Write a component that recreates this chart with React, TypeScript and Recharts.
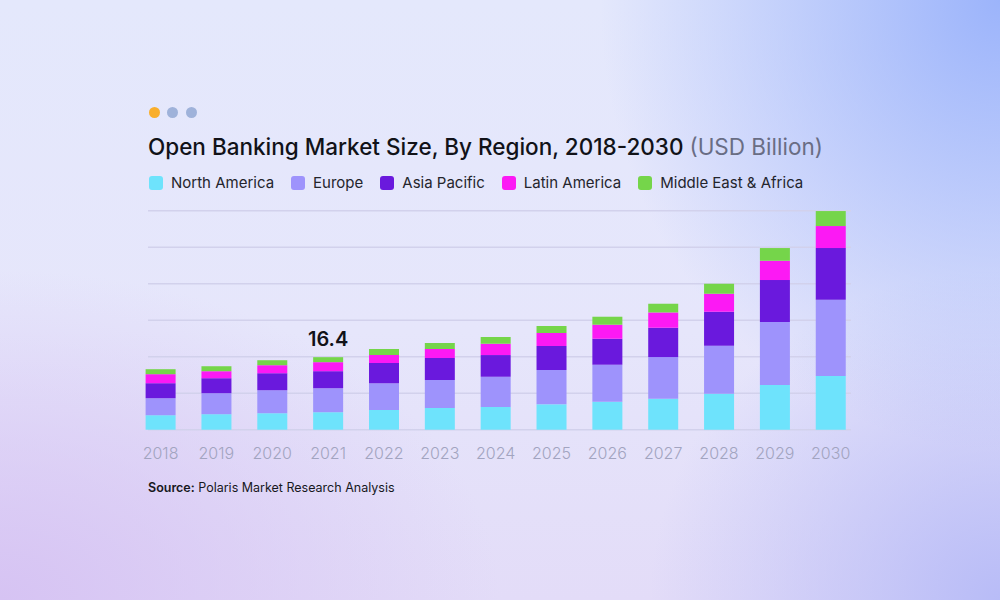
import { BarChart, Bar, XAxis, YAxis, CartesianGrid, LabelList } from 'recharts'

const years = ['2018', '2019', '2020', '2021', '2022', '2023', '2024', '2025', '2026', '2027', '2028', '2029', '2030']
const northAmerica = [3.28, 3.51, 3.73, 3.96, 4.46, 4.91, 5.13, 5.75, 6.33, 7.01, 8.14, 10.11, 12.15]
const europe = [3.85, 4.75, 5.2, 5.43, 6.04, 6.33, 6.85, 7.76, 8.37, 9.43, 10.86, 14.25, 17.26]
const asiaPacific = [3.39, 3.39, 3.85, 3.85, 4.59, 4.98, 4.91, 5.43, 5.88, 6.63, 7.69, 9.5, 11.69]
const latinAmerica = [2.04, 1.58, 1.81, 2.04, 1.81, 2.04, 2.56, 2.94, 3.17, 3.46, 4.07, 4.37, 4.98]
const middleEastAfrica = [1.13, 1.13, 1.13, 1.13, 1.36, 1.36, 1.52, 1.58, 1.81, 1.97, 2.26, 2.87, 3.39]
const topLabels = ['', '', '', '16.4', '', '', '', '', '', '', '', '', '']
const yTicks = [0, 8.26, 16.52, 24.77, 33.03, 41.29, 49.55]

const series = [
  { key: 'na', name: 'North America', color: '#6ee3fc' },
  { key: 'eu', name: 'Europe', color: '#9e93fc' },
  { key: 'ap', name: 'Asia Pacific', color: '#6a19dd' },
  { key: 'la', name: 'Latin America', color: '#fc19f4' },
  { key: 'mea', name: 'Middle East & Africa', color: '#75d54a' },
]

const data = years.map((year, i) => ({
  year,
  na: northAmerica[i],
  eu: europe[i],
  ap: asiaPacific[i],
  la: latinAmerica[i],
  mea: middleEastAfrica[i],
  label: topLabels[i],
}))

const font = 'Inter, "Noto Sans", sans-serif'

// grid lines stop short of the outer band edges, like the original
const GridLine = (props: any) => (
  <line
    key={props.key}
    x1={props.x1 + 15.4}
    x2={props.x2 - 7.6}
    y1={props.y1}
    y2={props.y2}
    stroke="#d2d1ec"
    strokeWidth={1.5}
  />
)

export default function App() {
  return (
    <div
      style={{
        position: 'absolute',
        top: 0,
        left: 0,
        width: 1000,
        height: 600,
        overflow: 'hidden',
        fontFamily: font,
        background:
          'radial-gradient(ellipse 40% 75% at 100% 0%, rgba(156,180,251,1) 0%, rgba(156,180,251,0) 100%), radial-gradient(ellipse 35% 55% at 100% 100%, rgba(184,188,247,1) 0%, rgba(184,188,247,0) 100%), radial-gradient(ellipse 50% 55% at 0% 100%, rgba(214,195,243,1) 0%, rgba(214,195,243,0) 100%), linear-gradient(180deg, #e4e8fc 0%, #e6e6fb 55%, #e3dcf8 100%)',
      }}
    >
      {['#f9ae2b', '#9fb2da', '#9fb2da'].map((c, i) => (
        <div
          key={i}
          style={{
            position: 'absolute',
            left: 149 + i * 18.4,
            top: 106.5,
            width: 11,
            height: 11,
            borderRadius: '50%',
            background: c,
          }}
        />
      ))}
      <div
        style={{
          position: 'absolute',
          left: 148,
          top: 135.5,
          fontSize: 22.5,
          lineHeight: '22px',
          fontWeight: 500,
          color: '#111218',
          whiteSpace: 'nowrap',
        }}
      >
        Open Banking Market Size, By Region, 2018-2030{' '}
        <span style={{ color: '#696d84', fontWeight: 400 }}>(USD Billion)</span>
      </div>
      <div
        style={{
          position: 'absolute',
          left: 149,
          top: 174.5,
          display: 'flex',
          alignItems: 'center',
          fontSize: 15,
          lineHeight: '16px',
          color: '#24252c',
          whiteSpace: 'nowrap',
        }}
      >
        {series.map((s) => (
          <div key={s.key} style={{ display: 'flex', alignItems: 'center', marginRight: 17 }}>
            <span
              style={{
                display: 'inline-block',
                width: 14,
                height: 14,
                borderRadius: 3,
                background: s.color,
                marginRight: 8,
              }}
            />
            {s.name}
          </div>
        ))}
      </div>
      <div style={{ position: 'absolute', left: 0, top: 0 }}>
        <BarChart
          width={1000}
          height={600}
          data={data}
          margin={{ top: 210.7, right: 141.4, bottom: 140.3, left: 132.6 }}
          barSize={30}
        >
          <CartesianGrid vertical={false} horizontal={GridLine} />
          <XAxis
            dataKey="year"
            height={30}
            axisLine={false}
            tickLine={false}
            tickSize={0}
            tickMargin={18}
            interval={0}
            tick={{ fill: '#a2a4c0', fontSize: 16, fontWeight: 300, fontFamily: font }}
          />
          <YAxis hide domain={[0, 49.55]} ticks={yTicks} />
          {series.map((s, i) => (
            <Bar key={s.key} dataKey={s.key} stackId="a" fill={s.color} isAnimationActive={false}>
              {i === series.length - 1 && (
                <LabelList
                  dataKey="label"
                  position="top"
                  offset={11}
                  fill="#111218"
                  fontSize={20}
                  fontWeight={600}
                  fontFamily={font}
                />
              )}
            </Bar>
          ))}
        </BarChart>
      </div>
      <div
        style={{
          position: 'absolute',
          left: 148,
          top: 481,
          fontSize: 12.5,
          lineHeight: '14px',
          color: '#17181d',
          whiteSpace: 'nowrap',
        }}
      >
        <b style={{ fontWeight: 600 }}>Source:</b> Polaris Market Research Analysis
      </div>
    </div>
  )
}
